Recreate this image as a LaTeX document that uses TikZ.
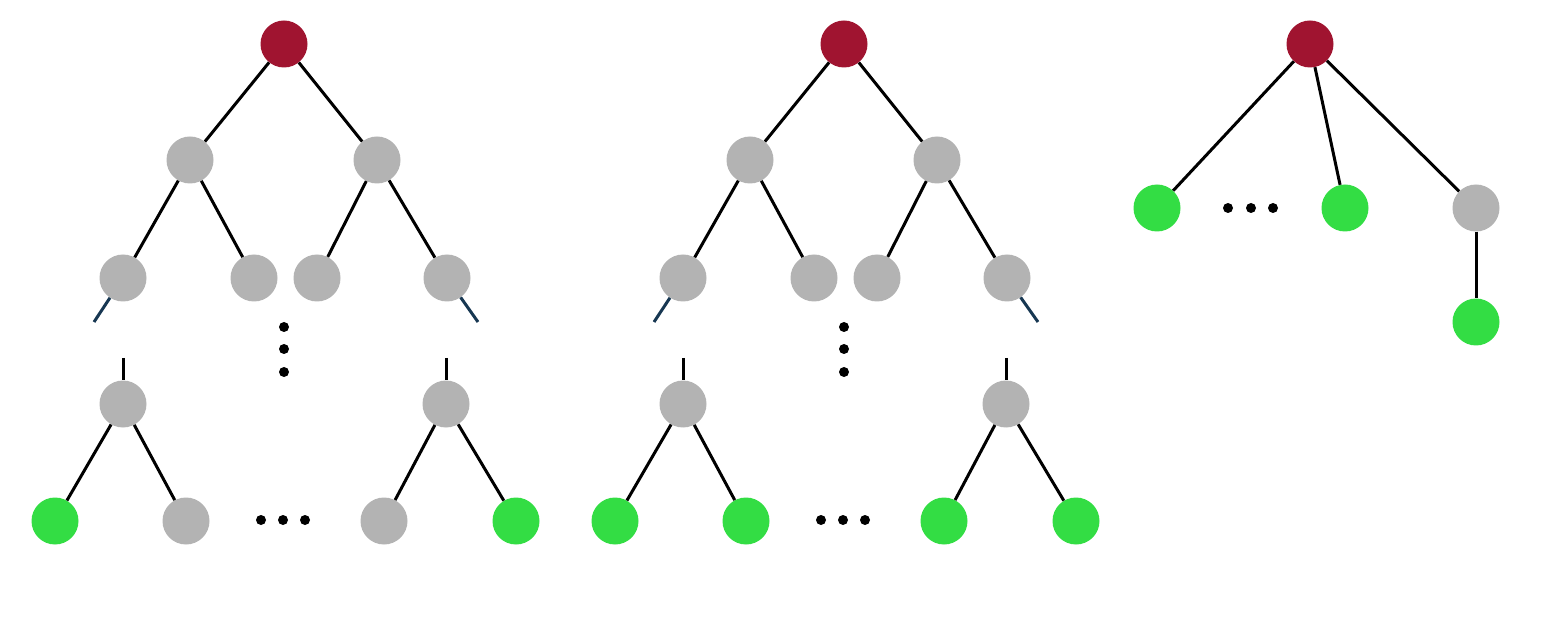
\documentclass[tikz,border=0pt]{standalone}
\definecolor{rootred}{HTML}{A01430}
\definecolor{nodegray}{HTML}{B3B3B3}
\definecolor{leafgreen}{HTML}{33DD44}
\definecolor{stubblue}{HTML}{173752}
\tikzset{
  vert/.style={circle, inner sep=0pt, minimum size=47pt},
  rootnode/.style={vert, fill=rootred},
  graynode/.style={vert, fill=nodegray},
  greennode/.style={vert, fill=leafgreen},
  edge/.style={line width=3pt, black},
  stub/.style={line width=3pt, stubblue},
  dotmark/.style={circle, fill=black, inner sep=0pt, minimum size=10pt},
}
\begin{document}
\begin{tikzpicture}[x=1pt,y=-1pt]
\useasboundingbox (0,0) rectangle (1548,628);
% two binary trees
\foreach \p/\dx/\la/\lb/\lc/\ld in {A/0/greennode/graynode/graynode/greennode, B/560/greennode/greennode/greennode/greennode}{
  \begin{scope}[xshift=\dx pt]
    \node[rootnode] (\p r) at (284,44) {};
    \node[graynode] (\p a) at (190,160) {};
    \node[graynode] (\p b) at (377,160) {};
    \node[graynode] (\p c) at (123,278) {};
    \node[graynode] (\p d) at (254,278) {};
    \node[graynode] (\p e) at (317,278) {};
    \node[graynode] (\p f) at (447,278) {};
    \coordinate (\p cs) at (94,322);
    \coordinate (\p fs) at (478,322);
    \coordinate (\p gs) at (123,358);
    \coordinate (\p hs) at (446,358);
    \node[graynode] (\p g) at (123,404) {};
    \node[graynode] (\p h) at (446,404) {};
    \node[\la] (\p l1) at (55,521) {};
    \node[\lb] (\p l2) at (186,521) {};
    \node[\lc] (\p l3) at (384,521) {};
    \node[\ld] (\p l4) at (516,521) {};
    \node[dotmark] (\p v1) at (284,327) {};
    \node[dotmark] (\p v2) at (284,349) {};
    \node[dotmark] (\p v3) at (284,372) {};
    \node[dotmark] (\p h1) at (261,520) {};
    \node[dotmark] (\p h2) at (283,520) {};
    \node[dotmark] (\p h3) at (305,520) {};
    \draw[edge] (\p r) -- (\p a);
    \draw[edge] (\p r) -- (\p b);
    \draw[edge] (\p a) -- (\p c);
    \draw[edge] (\p a) -- (\p d);
    \draw[edge] (\p b) -- (\p e);
    \draw[edge] (\p b) -- (\p f);
    \draw[stub] (\p c) -- (\p cs);
    \draw[stub] (\p f) -- (\p fs);
    \draw[edge] (\p gs) -- (\p g);
    \draw[edge] (\p hs) -- (\p h);
    \draw[edge] (\p g) -- (\p l1);
    \draw[edge] (\p g) -- (\p l2);
    \draw[edge] (\p h) -- (\p l3);
    \draw[edge] (\p h) -- (\p l4);
  \end{scope}
}
% third tree
\node[rootnode] (Cr) at (1310,44) {};
\node[greennode] (Ca) at (1157,208) {};
\node[greennode] (Cb) at (1345,208) {};
\node[graynode] (Cc) at (1476,208) {};
\node[greennode] (Cd) at (1476,322) {};
\node[dotmark] (Ch1) at (1228,208) {};
\node[dotmark] (Ch2) at (1251,208) {};
\node[dotmark] (Ch3) at (1273,208) {};
\draw[edge] (Cr) -- (Ca);
\draw[edge] (Cr) -- (Cb);
\draw[edge] (Cr) -- (Cc);
\draw[edge] (Cc) -- (Cd);
\end{tikzpicture}
\end{document}
